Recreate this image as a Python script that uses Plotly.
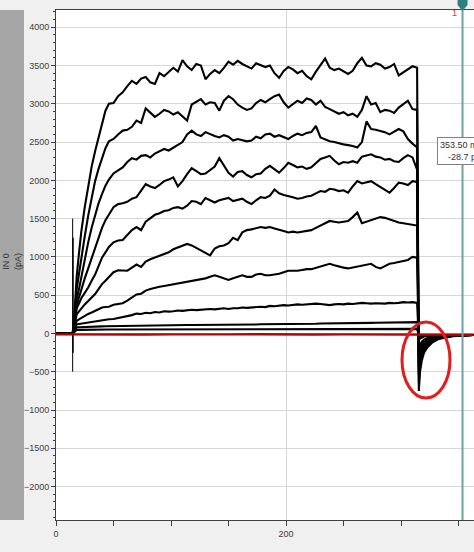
import plotly.graph_objects as go

# ---------------- data ----------------
pre_t = [0, 5, 10, 14.3]
pre_y = [0, 4, -4, 0]

rise_t = [14.5, 16, 18, 20, 22, 25, 28, 31, 34, 37, 40, 43, 46, 50, 54, 58]
plateau_t = list(range(62, 311, 4)) + [314]
tail_t = [315.5, 316.5, 318, 320, 323, 327, 333, 345, 363]

rise_1 = [0, 250, 750, 1050, 1330, 1650, 1930, 2180, 2380, 2560, 2740, 2910, 3000, 3010, 3100, 3150]
rise_2 = [0, 200, 580, 780, 1000, 1270, 1540, 1780, 1990, 2150, 2300, 2420, 2510, 2540, 2600, 2650]
rise_3 = [0, 150, 450, 580, 740, 960, 1190, 1380, 1550, 1700, 1820, 1930, 2010, 2090, 2130, 2170]
rise_4 = [0, 130, 370, 470, 580, 720, 850, 990, 1120, 1250, 1380, 1480, 1560, 1650, 1690, 1700]
rise_5 = [0, 110, 330, 390, 460, 530, 600, 690, 770, 880, 990, 1060, 1130, 1190, 1215, 1220]
rise_6 = [0, 90, 250, 290, 330, 380, 425, 470, 515, 580, 645, 690, 740, 800, 825, 820]
rise_7 = [0, 70, 165, 185, 205, 230, 255, 275, 300, 320, 340, 345, 350, 375, 390, 395]
rise_8 = [0, 50, 120, 125, 130, 135, 145, 150, 160, 168, 175, 180, 185, 190, 200, 210]
rise_9 = [0, 30, 80, 82, 84, 86, 88, 90, 91, 92, 93, 94, 95, 96, 97, 98]
rise_10 = [0, 20, 45, 47, 48, 48, 49, 50, 50, 50, 51, 51, 52, 52, 52, 53]

plat_1 = [3230, 3300, 3260, 3330, 3350, 3280, 3260, 3400,
          3360, 3410, 3470, 3420, 3570, 3490, 3440, 3520,
          3500, 3320, 3390, 3440, 3400, 3470, 3550, 3510,
          3560, 3520, 3490, 3460, 3530, 3510, 3480, 3500,
          3400, 3340, 3430, 3480, 3450, 3400, 3430, 3360,
          3320, 3420, 3500, 3590, 3470, 3440, 3460, 3420,
          3390, 3430, 3530, 3600, 3500, 3490, 3530, 3510,
          3460, 3480, 3520, 3370, 3410, 3440, 3490, 3470]
plat_2 = [2660, 2700, 2780, 2750, 2940, 2880, 2830, 2870,
          2920, 2900, 2860, 2890, 2840, 2780, 2990, 3030,
          3060, 2990, 3020, 3010, 2910, 3040, 3100, 3060,
          2990, 2950, 2920, 2940, 3010, 3050, 3020, 3060,
          3100, 3120, 3020, 2950, 3000, 3040, 3010, 3070,
          3050, 2990, 3040, 2960, 2930, 2900, 2870, 2890,
          2850, 2870, 2830, 2920, 3100, 2990, 3010, 2890,
          2920, 2910, 2880, 2950, 3000, 3040, 2930, 2920]
plat_3 = [2240, 2290, 2270, 2320, 2330, 2300, 2350, 2380,
          2410, 2390, 2430, 2460, 2500, 2600, 2650, 2600,
          2580, 2630, 2600, 2580, 2560, 2590, 2570, 2520,
          2540, 2530, 2510, 2520, 2570, 2550, 2600, 2610,
          2570, 2590, 2560, 2540, 2580, 2610, 2590, 2620,
          2630, 2710, 2560, 2530, 2510, 2500, 2480, 2470,
          2460, 2450, 2430, 2500, 2770, 2670, 2660, 2650,
          2630, 2600, 2640, 2670, 2640, 2540, 2480, 2430]
plat_4 = [1720, 1760, 1780, 1860, 1950, 1920, 1900, 1940,
          1990, 2010, 2040, 1920, 1990, 2080, 2160, 2120,
          2080, 2090, 2140, 2180, 2290, 2200, 2100, 2050,
          2110, 2120, 2070, 2040, 2080, 2090, 2150, 2190,
          2140, 2100, 2160, 2230, 2200, 2170, 2180, 2150,
          2170, 2230, 2280, 2300, 2320, 2260, 2210, 2240,
          2230, 2250, 2230, 2310, 2330, 2340, 2310, 2300,
          2270, 2280, 2250, 2240, 2290, 2330, 2300, 2140]
plat_5 = [1290, 1350, 1390, 1350, 1460, 1500, 1550, 1570,
          1600, 1610, 1640, 1650, 1630, 1670, 1730, 1720,
          1690, 1770, 1740, 1710, 1740, 1760, 1770, 1730,
          1740, 1760, 1720, 1690, 1740, 1780, 1770, 1800,
          1880, 1830, 1810, 1800, 1780, 1760, 1770, 1790,
          1800, 1830, 1860, 1850, 1890, 1880, 1860, 1870,
          1840, 1920, 1990, 1960, 1970, 1990, 1950, 1910,
          1880, 1840, 1900, 1970, 1960, 1940, 1990, 1980]
plat_6 = [820, 860, 900, 870, 940, 970, 990, 1010,
          1030, 1060, 1100, 1120, 1150, 1170, 1150, 1120,
          1090, 1060, 1020, 1110, 1140, 1150, 1180, 1250,
          1220, 1320, 1350, 1360, 1370, 1390, 1380, 1390,
          1370, 1360, 1340, 1320, 1330, 1320, 1330, 1340,
          1350, 1380, 1410, 1440, 1470, 1460, 1450, 1460,
          1470, 1520, 1580, 1440, 1460, 1480, 1500, 1520,
          1510, 1490, 1470, 1450, 1440, 1430, 1420, 1410]
plat_7 = [430, 470, 510, 520, 560, 580, 600, 610,
          620, 630, 640, 650, 660, 670, 680, 690,
          700, 720, 740, 760, 740, 720, 700, 720,
          740, 760, 740, 740, 770, 780, 760, 760,
          770, 780, 800, 820, 820, 820, 830, 840,
          840, 860, 870, 890, 910, 890, 870, 860,
          850, 860, 870, 880, 900, 910, 870, 850,
          880, 910, 920, 930, 950, 960, 1000, 990]
plat_8 = [220, 240, 260, 255, 270, 265, 280, 275,
          290, 285, 290, 300, 295, 300, 310, 305,
          310, 315, 320, 315, 320, 330, 320, 330,
          330, 340, 335, 340, 345, 350, 345, 360,
          355, 360, 370, 365, 370, 380, 375, 380,
          380, 390, 385, 380, 370, 380, 385, 380,
          390, 385, 390, 400, 395, 390, 395, 390,
          390, 400, 395, 400, 410, 405, 410, 400]
plat_9 = [100, 100, 102, 102, 104, 104, 105, 105,
          106, 106, 108, 108, 108, 110, 110, 110,
          110, 112, 112, 112, 114, 114, 112, 114,
          116, 116, 118, 118, 118, 120, 120, 120,
          122, 122, 124, 124, 124, 126, 126, 126,
          128, 128, 130, 130, 130, 132, 132, 132,
          134, 134, 136, 136, 138, 138, 140, 140,
          142, 142, 144, 144, 146, 146, 148, 148]
plat_10 = [53, 53, 54, 54, 54, 55, 55, 55,
           55, 55, 56, 56, 56, 56, 56, 56,
           56, 57, 57, 57, 57, 57, 57, 57,
           58, 58, 58, 58, 58, 58, 58, 58,
           58, 58, 58, 58, 59, 59, 59, 59,
           59, 59, 59, 59, 59, 59, 59, 59,
           59, 60, 60, 60, 60, 60, 60, 60,
           60, 60, 60, 60, 60, 60, 60, 60]

tail_1 = [-750, -500, -360, -250, -180, -120, -70, -35, -20]
tail_2 = [-640, -430, -310, -215, -155, -105, -62, -32, -20]
tail_3 = [-530, -360, -260, -180, -130, -88, -54, -30, -20]
tail_4 = [-470, -320, -230, -160, -115, -80, -50, -28, -20]
tail_5 = [-430, -290, -210, -145, -105, -72, -46, -27, -20]
tail_6 = [-310, -210, -155, -110, -80, -57, -38, -25, -20]
tail_7 = [-220, -150, -110, -80, -60, -45, -32, -23, -20]
tail_8 = [-90, -65, -50, -40, -33, -28, -24, -21, -20]
tail_9 = [-40, -32, -28, -25, -23, -22, -21, -20, -20]
tail_10 = [-25, -22, -21, -20, -20, -20, -20, -20, -20]

red_t = [0, 25, 50, 75, 100, 125, 150, 175, 200, 225, 250, 275, 300, 325, 350, 363]
red_y = [-12, -15, -10, -14, -11, -16, -12, -10, -15, -13, -11, -14, -12, -15, -18, -16]

spike_t = [14.5, 14.5]
spike_y = [-500, 1500]
spike2_t = [14.8, 14.8]
spike2_y = [-250, 1250]

cursor_t = 353.5
cursor_text = "353.50 ms<br>-28.7 pA"
y_title = "IN 0<br>(pA)"

rises = [rise_1, rise_2, rise_3, rise_4, rise_5, rise_6, rise_7, rise_8, rise_9, rise_10]
plats = [plat_1, plat_2, plat_3, plat_4, plat_5, plat_6, plat_7, plat_8, plat_9, plat_10]
tails = [tail_1, tail_2, tail_3, tail_4, tail_5, tail_6, tail_7, tail_8, tail_9, tail_10]

for r in rises:
    assert len(r) == len(rise_t)
for p in plats:
    assert len(p) == len(plateau_t), len(p)
for tl in tails:
    assert len(tl) == len(tail_t)

# ---------------- figure ----------------
W, H = 474, 552
ML, MR, MT, MB = 56, 0, 10, 32
PW = W - ML - MR
PH = H - MT - MB

fig = go.Figure()

sweep_t = pre_t + rise_t + plateau_t + tail_t
for r, p, tl in zip(rises, plats, tails):
    fig.add_trace(go.Scatter(x=sweep_t, y=pre_y + r + p + tl, mode="lines",
                             line=dict(color="#000000", width=2.1),
                             hoverinfo="skip"))

fig.add_trace(go.Scatter(x=spike_t, y=spike_y, mode="lines",
                         line=dict(color="#000000", width=1.0), hoverinfo="skip"))
fig.add_trace(go.Scatter(x=spike2_t, y=spike2_y, mode="lines",
                         line=dict(color="#000000", width=1.4), hoverinfo="skip"))
fig.add_trace(go.Scatter(x=red_t, y=red_y, mode="lines",
                         line=dict(color="#b80000", width=2.4), hoverinfo="skip"))

axis_col = "#404040"
font_fam = "Liberation Sans, Arial, sans-serif"

fig.update_layout(
    template="none",
    width=W, height=H,
    margin=dict(l=ML, r=MR, t=MT, b=MB, pad=0),
    paper_bgcolor="#f0f0f0",
    plot_bgcolor="#ffffff",
    showlegend=False,
    font=dict(family=font_fam, size=9, color=axis_col),
    xaxis=dict(range=[0, PW / 1.15], tick0=0, dtick=200, showgrid=True,
               gridcolor="#d6d6d6", gridwidth=1, zeroline=False,
               ticks="outside", ticklen=5, tickcolor=axis_col,
               showline=True, linecolor=axis_col, linewidth=1, mirror=True,
               tickfont=dict(size=9, color=axis_col), automargin=False,
               minor=dict(dtick=50, ticks="outside", ticklen=5,
                          tickcolor=axis_col, showgrid=False)),
    yaxis=dict(range=[-2436, 4225], tick0=0, dtick=500, showgrid=True,
               gridcolor="#d6d6d6", gridwidth=1, zeroline=False,
               ticks="outside", ticklen=4, tickcolor=axis_col,
               showline=True, linecolor=axis_col, linewidth=1,
               tickfont=dict(size=9, color=axis_col), automargin=False,
               minor=dict(dtick=100, ticks="outside", ticklen=2,
                          tickcolor=axis_col, showgrid=False)),
)

# left grey band with axis title
fig.add_shape(type="rect", xref="paper", yref="paper",
              x0=-ML / PW, x1=(24 - ML) / PW, y0=0, y1=1,
              fillcolor="#a6a6a6", line=dict(width=0), layer="above")
fig.add_annotation(text=y_title, xref="paper", yref="paper",
                   x=(12 - ML) / PW, y=(H - MB - 262) / PH, textangle=-90,
                   showarrow=False, font=dict(size=9, color="#333333"),
                   xanchor="center", yanchor="middle")

# cursor line and marker
top_paper = 1 + MT / PH
fig.add_shape(type="line", xref="x", yref="paper", x0=cursor_t, x1=cursor_t,
              y0=0, y1=top_paper, line=dict(color="#6fa3a3", width=2))
hw = 5 / 1.15
fig.add_shape(type="path", xref="x", yref="paper",
              path=f"M {cursor_t - hw},{top_paper} L {cursor_t + hw},{top_paper} "
                   f"L {cursor_t + hw},{1 + 5 / PH} L {cursor_t},{1 - 1 / PH} "
                   f"L {cursor_t - hw},{1 + 5 / PH} Z",
              fillcolor="#2f7f7f", line=dict(width=0))
fig.add_annotation(text="1", xref="x", yref="paper", x=cursor_t - 8 / 1.15,
                   y=1 + 4 / PH, showarrow=False,
                   font=dict(size=9, color="#d04848"))

# readout box
fig.add_annotation(text=cursor_text, xref="x", yref="y",
                   x=(437 - ML) / 1.15, y=(333.5 - 137) / 0.07657,
                   xanchor="left", yanchor="top", align="right",
                   showarrow=False, bgcolor="#ffffff", bordercolor="#808080",
                   borderwidth=1, borderpad=2,
                   font=dict(size=9, color="#333333"))

# red highlight ellipse
fig.add_shape(type="circle", xref="x", yref="y",
              x0=(402 - ML) / 1.15, x1=(450 - ML) / 1.15,
              y0=(333.5 - 398) / 0.07657, y1=(333.5 - 322) / 0.07657,
              line=dict(color="#e01e1e", width=3))

fig.write_html("out.html",
               config={"displayModeBar": False},
               post_script="document.body.style.margin='0';"
                           "document.body.style.overflow='hidden';")
